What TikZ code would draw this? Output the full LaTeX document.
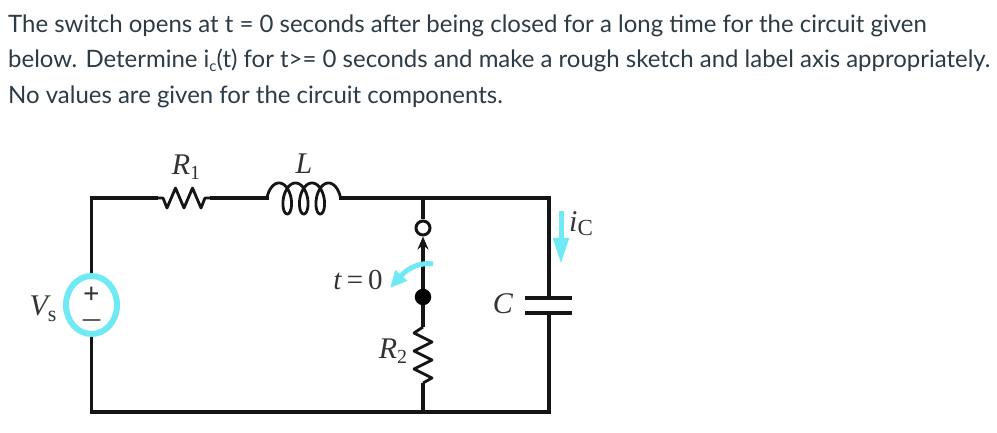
\documentclass[tikz,border=0pt]{standalone}
\usepackage{fontspec}
\setmainfont{Lato}
\newfontfamily\serifcirc{Liberation Serif}
\newfontfamily\dashfont[FakeBold=3]{Liberation Serif}
\usetikzlibrary{arrows.meta,shapes.geometric}
\definecolor{txt}{HTML}{2D3B45}
\definecolor{cy}{HTML}{6FEAF5}
\definecolor{wirec}{HTML}{151515}
\definecolor{lab}{HTML}{333333}
\tikzset{
  para/.style={anchor=base west,inner sep=0pt,text=txt,font=\fontsize{23.97}{28}\selectfont},
  wire/.style={draw=wirec,line width=3.2pt,line join=miter},
  comp/.style={draw=wirec,line width=2.8pt,line join=round},
  lbl/.style={inner sep=0pt,text=lab,font=\serifcirc\itshape\fontsize{30}{32}\selectfont},
  symb/.style={inner sep=0pt,text=lab,anchor=base},
}
\begin{document}
\begin{tikzpicture}[x=1pt,y=-1pt]
\useasboundingbox (0,0) rectangle (997,433);
\fill[white] (0,0) rectangle (997,433);
% text
\node[para] (l1) at (8,33) {The switch opens at t = 0 seconds after being closed for a long time for the circuit given};
\node[para] (l2) at (8,68) {below. Determine i\raisebox{-4pt}{\fontsize{15}{16}\selectfont c}(t) for t>= 0 seconds and make a rough sketch and label axis appropriately.};
\node[para] (l3) at (8,104) {No values are given for the circuit components.};
% coordinates
\coordinate (tl) at (91,198);
\coordinate (bl) at (91,412);
\coordinate (tr) at (549,198);
\coordinate (br) at (549,412);
\coordinate (tm) at (423,198);
\coordinate (bm) at (423,412);
\coordinate (ra) at (158,198);
\coordinate (rb) at (210,198);
\coordinate (la) at (269,198);
\coordinate (lb) at (339,198);
\coordinate (r2a) at (423,327);
\coordinate (r2b) at (423,383);
\coordinate (ctop) at (549,298);
\coordinate (cbot) at (549,313);
% source
\node[ellipse,draw=cy,line width=6pt,minimum width=51pt,minimum height=58pt,inner sep=0pt,fill=white] (vs) at (91.5,305) {};
% wires
\draw[wire] (vs.north) -- (vs.north |- tl) -- (ra);
\draw[wire] (rb) -- (la);
\draw[wire] (lb) -- (tr) -- (ctop);
\draw[wire] (cbot) -- (br) -- (bl -| vs.south) -- (vs.south);
% R1
\draw[comp] (ra) -- ++(5,0) -- ++(4,10) -- ++(8.5,-20) -- ++(8.5,20) -- ++(8.5,-20) -- ++(8.5,20) -- ++(4,-10) -- (rb);
% L
\draw[comp] plot[domain=-90:1170,samples=260,smooth] ({279+16.5*(\x/360)+8*sin(\x)},{198.5-15.5*cos(\x)});
% switch
\node[circle,draw=wirec,line width=3pt,minimum size=14pt,inner sep=0pt,fill=white] (so) at (423,228) {};
\node[circle,fill=black,minimum size=16.5pt,inner sep=0pt] (sc) at (423,297) {};
\draw[wire] (tm) -- (so.north);
\draw[wire,-{Stealth[length=13pt,width=11pt]}] (sc) -- (so.south);
\draw[wire] (sc) -- (r2a);
% R2
\draw[comp] (r2a) -- ++(-9,6) -- ++(18,9) -- ++(-18,9) -- ++(18,9) -- ++(-18,9) -- ++(18,9) -- ++(-9,5) -- (r2b);
\draw[wire] (r2b) -- (bm);
% capacitor
\draw[wire] (525,298) coordinate (c1a) -- (572,298) coordinate (c1b);
\draw[wire] (525,313) coordinate (c2a) -- (572,313) coordinate (c2b);
% cyan arrows
\coordinate (aa) at (433,264);
\coordinate (ab) at (390,288);
\draw[draw=cy,line width=5pt,-{Triangle[length=17pt,width=15pt]}] (aa) .. controls (420,262) and (408,268) .. (ab);
\coordinate (ia) at (561,211);
\coordinate (ib) at (561,264);
\draw[draw=cy,line width=5pt,-{Triangle[length=26pt,width=15pt]}] (ia) -- (ib);
% labels
\node[lbl] (lr1) at (186,167) {R\raisebox{-5pt}{\upshape\fontsize{20}{20}\selectfont 1}};
\node[lbl] (ll) at (304,164) {L};
\node[lbl] (lvs) at (43,309) {V\raisebox{-6pt}{\upshape\fontsize{22}{22}\selectfont s}};
\node[lbl,font=\serifcirc\fontsize{29}{30}\selectfont] (lt) at (358,280) {\textit{t}\,=\,0};
\node[lbl] (lr2) at (393,351) {R\raisebox{-5pt}{\upshape\fontsize{20}{20}\selectfont 2}};
\node[lbl] (lc) at (503,304) {C};
\node[lbl] (lic) at (581,224) {i\raisebox{-4pt}{\upshape\fontsize{23}{23}\selectfont C}};
\node[symb,font=\serifcirc\bfseries\fontsize{29}{29}\selectfont] (plus) at (91.5,303) {+};
\node[symb,font=\dashfont\fontsize{17}{17}\selectfont] (minus) at (91.5,324) {—};
\end{tikzpicture}
\end{document}
